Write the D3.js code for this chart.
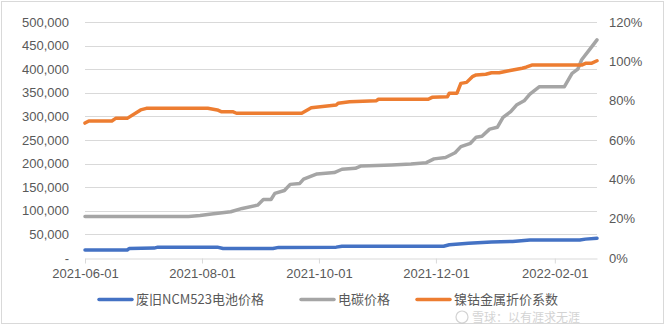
<!DOCTYPE html>
<html>
<head>
<meta charset="utf-8">
<script src="https://cdn.jsdelivr.net/npm/d3@7"></script>
<style>
  body { margin: 0; background: #fff; }
  svg { display: block; font-family: "Noto Sans CJK SC", "Noto Sans", sans-serif; }
</style>
</head>
<body>
<div id="chart"></div>
<script>
// series names, legend order
var seriesNames = ['废旧NCM523电池价格', '电碳价格', '镍钴金属折价系数'];
var seriesColors = ['#4472C4', '#A5A5A5', '#ED7D31'];

// 废旧NCM523电池价格 (left axis, yuan)
var blueDates = ['2021-06-01','2021-06-23','2021-06-24','2021-07-07','2021-07-09','2021-08-09','2021-08-12',
  '2021-09-07','2021-09-10','2021-10-10','2021-10-13','2021-12-05','2021-12-08','2021-12-18','2021-12-30',
  '2022-01-10','2022-01-19','2022-02-14','2022-02-17','2022-02-23'];
var blueValues = [17000,17000,20000,21000,23000,23000,20000,
  20000,22500,23000,25000,25000,28000,31000,34000,
  35000,38000,38000,40000,42000];

// 电碳价格 (left axis, yuan)
var greyDates = ['2021-06-01','2021-07-25','2021-07-31','2021-08-06','2021-08-16','2021-08-22','2021-08-30',
  '2021-09-02','2021-09-06','2021-09-08','2021-09-13','2021-09-16','2021-09-21','2021-09-23','2021-09-30',
  '2021-10-09','2021-10-13','2021-10-20','2021-10-23','2021-11-08','2021-11-18','2021-11-26','2021-11-30',
  '2021-12-06','2021-12-11','2021-12-14','2021-12-19','2021-12-22','2021-12-25','2021-12-29','2022-01-02',
  '2022-01-05','2022-01-09','2022-01-12','2022-01-16','2022-01-19','2022-01-24','2022-02-06','2022-02-10',
  '2022-02-13','2022-02-15','2022-02-19','2022-02-23'];
var greyValues = [88000,88000,90000,93000,98000,105000,112000,
  124000,124000,137000,143000,156000,158000,167000,178000,
  181000,188000,190000,195000,197000,199000,202000,210000,
  213000,223000,236000,243000,256000,258000,273000,277000,
  298000,310000,324000,333000,347000,363000,363000,391000,
  400000,420000,441000,462000];

// 镍钴金属折价系数 (right axis, ratio)
var orangeDates = ['2021-06-01','2021-06-03','2021-06-15','2021-06-17','2021-06-23','2021-06-30','2021-07-03',
  '2021-08-04','2021-08-09','2021-08-11','2021-08-17','2021-08-19','2021-09-22','2021-09-27','2021-10-10',
  '2021-10-11','2021-10-17','2021-10-31','2021-11-01','2021-11-27','2021-11-29','2021-12-07','2021-12-08',
  '2021-12-12','2021-12-14','2021-12-17','2021-12-20','2021-12-22','2021-12-27','2021-12-30','2022-01-03',
  '2022-01-08','2022-01-15','2022-01-17','2022-01-20','2022-02-15','2022-02-17','2022-02-20','2022-02-23'];
var orangeValues = [0.686,0.697,0.697,0.710,0.710,0.753,0.761,
  0.761,0.753,0.744,0.744,0.736,0.736,0.764,0.778,
  0.787,0.794,0.800,0.807,0.807,0.817,0.820,0.838,
  0.838,0.888,0.893,0.922,0.931,0.934,0.942,0.942,
  0.952,0.965,0.970,0.981,0.981,0.990,0.990,1.003];

// axis ticks
var xTickLabels = ['2021-06-01', '2021-08-01', '2021-10-01', '2021-12-01', '2022-02-01'];
var leftTicks = [0, 50000, 100000, 150000, 200000, 250000, 300000, 350000, 400000, 450000, 500000];
var rightTicks = [0, 0.2, 0.4, 0.6, 0.8, 1.0, 1.2];

var width = 665, height = 326;
var parse = d3.utcParse('%Y-%m-%d');

var svg = d3.select('#chart').append('svg')
  .attr('width', width)
  .attr('height', height);

svg.append('rect')
  .attr('x', 1.5).attr('y', 1.5)
  .attr('width', 662).attr('height', 322)
  .attr('fill', '#fff')
  .attr('stroke', '#D9D9D9');

var x = d3.scaleUtc()
  .domain([parse('2021-06-01'), parse('2022-02-23')])
  .range([85, 597]);
var yLeft = d3.scaleLinear().domain([0, 500000]).range([258, 22]);
var yRight = d3.scaleLinear().domain([0, 1.2]).range([258, 22]);

// gridlines
svg.append('g')
  .selectAll('line')
  .data(leftTicks.slice(1))
  .enter().append('line')
  .attr('x1', 85).attr('x2', 597)
  .attr('y1', function(d){ return Math.round(yLeft(d)) + 0.5; })
  .attr('y2', function(d){ return Math.round(yLeft(d)) + 0.5; })
  .attr('stroke', '#D9D9D9');

// x axis
var xAxis = svg.append('g')
  .attr('transform', 'translate(0,258.5)')
  .call(d3.axisBottom(x)
    .tickValues(xTickLabels.map(parse))
    .tickFormat(d3.utcFormat('%Y-%m-%d'))
    .tickSize(5)
    .tickPadding(5)
    .tickSizeOuter(0));
xAxis.select('.domain').attr('stroke', '#D9D9D9');
xAxis.selectAll('line').attr('stroke', '#D9D9D9');
xAxis.selectAll('text').attr('font-size', 13).attr('fill', '#595959');

// left axis
var yl = svg.append('g')
  .attr('transform', 'translate(85,0)')
  .call(d3.axisLeft(yLeft)
    .tickValues(leftTicks)
    .tickFormat(function(d){ return d === 0 ? '-' : d3.format(',')(d); })
    .tickSize(0)
    .tickPadding(16));
yl.select('.domain').remove();
yl.selectAll('text').attr('font-size', 13).attr('fill', '#595959');

// right axis
var yr = svg.append('g')
  .attr('transform', 'translate(597,0)')
  .call(d3.axisRight(yRight)
    .tickValues(rightTicks)
    .tickFormat(d3.format('.0%'))
    .tickSize(0)
    .tickPadding(12));
yr.select('.domain').remove();
yr.selectAll('text').attr('font-size', 13).attr('fill', '#595959');

// lines
function pairs(dates, values){
  return dates.map(function(d, i){ return [parse(d), values[i]]; });
}
var lineLeft = d3.line()
  .x(function(d){ return x(d[0]); })
  .y(function(d){ return yLeft(d[1]); });
var lineRight = d3.line()
  .x(function(d){ return x(d[0]); })
  .y(function(d){ return yRight(d[1]); });

var paths = [
  lineLeft(pairs(blueDates, blueValues)),
  lineLeft(pairs(greyDates, greyValues)),
  lineRight(pairs(orangeDates, orangeValues))
];
svg.append('g')
  .selectAll('path')
  .data(paths)
  .enter().append('path')
  .attr('d', function(d){ return d; })
  .attr('fill', 'none')
  .attr('stroke', function(d, i){ return seriesColors[i]; })
  .attr('stroke-width', 3.5)
  .attr('stroke-linejoin', 'round')
  .attr('stroke-linecap', 'round');

// legend
var legendX = [99, 301, 417];
var legend = svg.append('g')
  .selectAll('g')
  .data(seriesNames)
  .enter().append('g')
  .attr('transform', function(d, i){ return 'translate(' + legendX[i] + ',299.5)'; });
legend.append('line')
  .attr('x1', 0).attr('x2', 33)
  .attr('stroke', function(d, i){ return seriesColors[i]; })
  .attr('stroke-width', 3.5)
  .attr('stroke-linecap', 'round');
legend.append('text')
  .attr('x', 37)
  .attr('dy', '0.35em')
  .attr('font-size', 13)
  .attr('fill', '#595959')
  .text(function(d){ return d; });

// watermark, kept just below the legend text
var wm = svg.append('g').attr('opacity', 0.55);
wm.append('circle')
  .attr('cx', 462).attr('cy', 317).attr('r', 6)
  .attr('fill', 'none').attr('stroke', '#B0B0B0').attr('stroke-width', 1.2);
wm.append('text')
  .attr('x', 472).attr('y', 322)
  .attr('font-size', 12)
  .attr('fill', '#B0B0B0')
  .text('雪球：以有涯求无涯');
</script>
</body>
</html>
